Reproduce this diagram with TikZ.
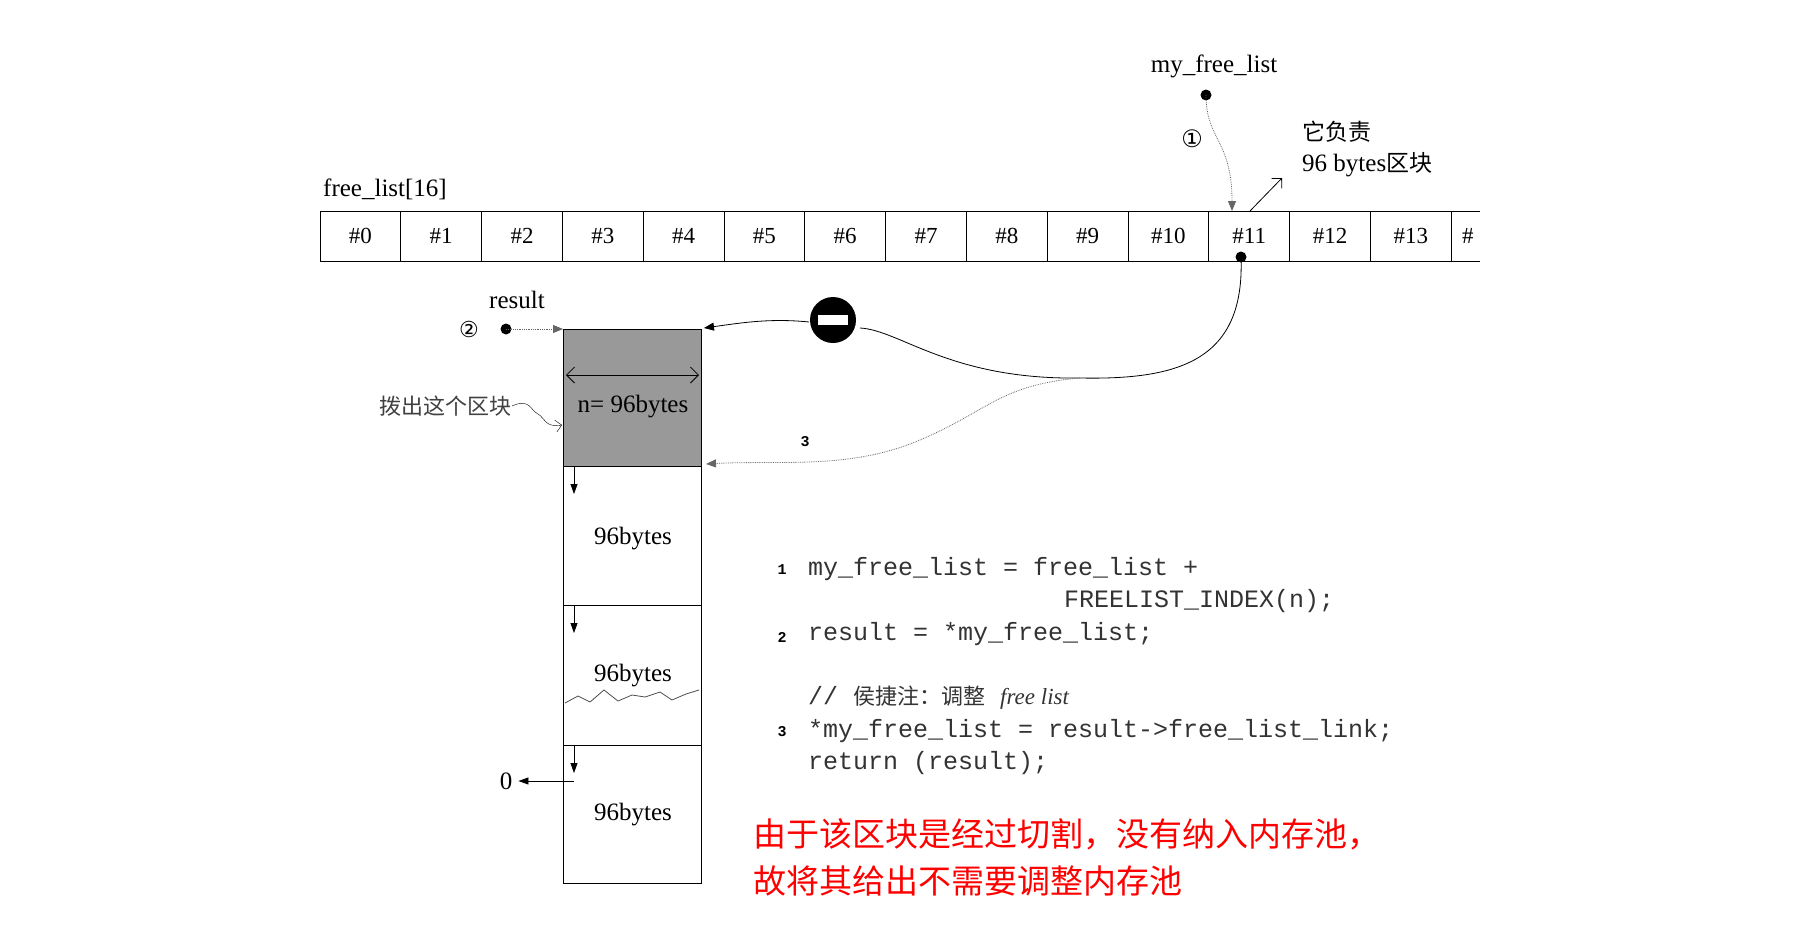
\documentclass[tikz,border=0pt]{standalone}
\usepackage{fontspec}
\setmainfont{Liberation Serif}
\setmonofont{Liberation Mono}
\newfontfamily\cjk{Noto Sans CJK SC}
\newfontfamily\sym{DejaVu Sans}
\usetikzlibrary{arrows.meta,decorations.pathmorphing}
\begin{document}
\begin{tikzpicture}[x=1pt,y=-1pt,
  lbl/.style={font=\fontsize{25}{28}\selectfont,inner sep=0pt},
  cell/.style={font=\fontsize{23}{26}\selectfont,inner sep=0pt},
  code/.style={font=\ttfamily\fontsize{25}{28}\selectfont,anchor=west,inner sep=0pt,text=black!80},
  num/.style={font=\ttfamily\bfseries\fontsize{15}{16}\selectfont,inner sep=0pt},
  arr/.style={-{Triangle[length=10pt,width=8pt]},thick},
  dotline/.style={densely dotted,thick,black!60},
  blk/.style={draw,thick}]
\useasboundingbox (0,0) rectangle (1810,930);
% array
\draw[thick] (320,211) -- (1480,211) (320,261) -- (1480,261) (320,211) -- (320,261);
\foreach \i in {0,...,13}{
  \node[cell] (c\i) at ({320+80.8*\i+40.4},236) {\#\i};
  \draw[thick] ({320+80.8*(\i+1)},211) -- ({320+80.8*(\i+1)},261);}
\node[cell,anchor=west] at (1462,236) {\#};
\node[lbl,anchor=west] (fl) at (323,189) {free\_list[16]};
% my_free_list
\node[lbl] (mfl) at (1214,66) {my\_free\_list};
\fill (1206,95) circle (5.5);
\coordinate (mfd) at (1206,95);
\coordinate (a11) at (1232,211);
\draw[dotline,-{Triangle[length=10pt,width=8pt]}] (mfd) .. controls (1206,140) and (1232,140) .. (a11);
\node[font=\sym\fontsize{24}{24}\selectfont] (n1) at (1192,139) {①};
\node[lbl,anchor=west,font=\cjk\fontsize{23}{26}\selectfont] (resp1) at (1302,132) {它负责};
\node[lbl,anchor=west] (resp2) at (1302,165) {96 bytes{\cjk\fontsize{23}{26}\selectfont 区块}};
\coordinate (r0) at (1250,211);
\coordinate (r1) at (1282,178);
\draw[thick,-{Straight Barb[length=7pt]}] (r0) -- (r1);
% block column
\fill[black!40] (563,329) rectangle (701,466);
\draw[blk] (563,329) rectangle (701,883);
\foreach \yy in {466,605,745}{\draw[blk] (563,\yy) -- (701,\yy);}
\foreach \yy in {466,605,745}{\draw[-{Triangle[length=10pt,width=7pt]},thick] (574,\yy) -- (574,{\yy+28});}
\draw[{Straight Barb[length=8pt]}-{Straight Barb[length=8pt]},thick] (566,375) -- (699,375);
\node[lbl] (nb) at (633,407) {n= 96bytes};
\node[lbl] (b1) at (633,539) {96bytes};
\node[lbl] (b2) at (633,676) {96bytes};
\node[lbl] (b3) at (633,815) {96bytes};
\draw[thick,black!70] (565,703) -- (578,696) -- (590,702) -- (604,690) -- (618,701) -- (632,695) -- (645,697) -- (660,692) -- (672,700) -- (686,694) -- (699,690);
% result
\node[lbl] (res) at (517,300) {result};
\node[font=\sym\fontsize{22}{22}\selectfont] (n2) at (469,329) {②};
\fill (506,329) circle (5.5);
\coordinate (rd) at (506,329);
\draw[dotline,-{Triangle[length=10pt,width=8pt]}] (rd) -- (563,329);
% 0
\node[lbl] (zero) at (506,781) {0};
\draw[-{Triangle[length=10pt,width=7pt]},thick] (574,781) -- ([xshift=6pt]zero.east);
% pull out label
\node[lbl,anchor=east,font=\cjk\fontsize{22}{24}\selectfont,text=black!75] (pull) at (512,406) {拨出这个区块};
\draw[thin,-{Straight Barb[length=6pt]}] (pull.east) .. controls (530,398) and (530,410) .. (538,414) .. controls (545,418) and (545,428) .. (562,425);
% dot under #11 and curve
\fill (1241,257) circle (5.5);
\coordinate (d11) at (1241,257);
\coordinate (mid) at (1080,378);
\draw[thick] (d11) .. controls (1245,360) and (1180,380) .. (mid) .. controls (950,380) and (900,330) .. (860,328);
\fill (833,320) circle (23);
\fill[white] (818,315) rectangle (848,325);
\coordinate (minus) at (809,322);
\draw[arr] (minus) .. controls (770,318) and (740,323) .. (704,328);
\draw[dotline,-{Triangle[length=10pt,width=8pt]}] (mid) .. controls (1000,385) and (990,410) .. (920,440) .. controls (850,470) and (780,460) .. (706,464);
\node[num] (n3) at (805,442) {3};
% code
\node[num] (k1) at (782,570) {1};
\node[code] (l1) at (808,569) {my\_free\_list = free\_list +};
\node[code] (l1b) at (1064,601) {FREELIST\_INDEX(n);};
\node[num] (k2) at (782,637) {2};
\node[code] (l2) at (808,634) {result = *my\_free\_list;};
\node[code] (l3) at (808,698) {// {\rmfamily\cjk\fontsize{22}{24}\selectfont 侯捷注：调整} {\rmfamily\itshape\fontsize{23}{26}\selectfont free list}};
\node[num] (k3) at (782,732) {3};
\node[code] (l4) at (808,731) {*my\_free\_list = result->free\_list\_link;};
\node[code] (l5) at (808,763) {return (result);};
% red note
\node[anchor=west,text=red,font=\cjk\fontsize{33}{38}\selectfont,inner sep=0pt] (red1) at (753,834) {由于该区块是经过切割，没有纳入内存池，};
\node[anchor=west,text=red,font=\cjk\fontsize{33}{38}\selectfont,inner sep=0pt] (red2) at (753,881) {故将其给出不需要调整内存池};
\end{tikzpicture}
\end{document}
